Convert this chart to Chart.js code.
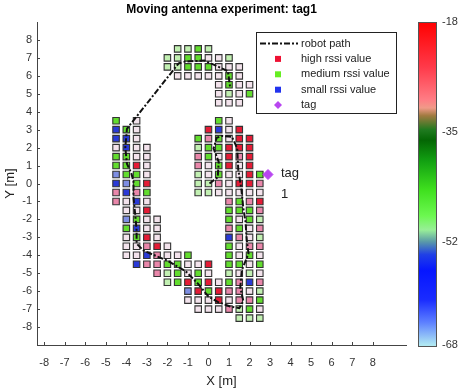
<!DOCTYPE html>
<html>
<head>
<meta charset="utf-8">
<script src="https://cdn.jsdelivr.net/npm/chart.js@4.4.0/dist/chart.umd.min.js"></script>
<style>
html, body { margin: 0; padding: 0; background: #fff; }
#wrap { position: relative; width: 474px; height: 391px; }
</style>
</head>
<body>
<div id="wrap"><canvas id="chart" width="474" height="391"></canvas></div>
<script>
var titleText = "Moving antenna experiment: tag1"
var xTicks = [-8, -7, -6, -5, -4, -3, -2, -1, 0, 1, 2, 3, 4, 5, 6, 7, 8]
var yTicks = [-8, -7, -6, -5, -4, -3, -2, -1, 0, 1, 2, 3, 4, 5, 6, 7, 8]
var cbTicks = [-18, -35, -52, -68]
var cbMin = -68, cbMax = -18

// colour bar (value -> colour)
var cbStopValues = [-18, -25, -30, -31.3, -32.5, -34.7, -36.3, -39.5, -44, -48, -50.2, -52, -54, -56.5, -61, -64.5, -68]
var cbStopColors = ["#ff0000", "#ff3a4a", "#ff7c84", "#f09a88", "#a07a40", "#1f7a1f", "#046604", "#12a012", "#3fe01e", "#6cf850", "#98ee98", "#5a9aa8", "#2040e6", "#0616ff", "#1a2cff", "#5d80ff", "#b0e8f2"]

// robot path
var pathX = [0.05, 0.45, 0.5, 0.25, 0.4, 0.65, 1.15, 1.4, 1.45, 1.6, 1.7, 1.8, 1.87, 1.95, 1.62, 1.55, 1.7, 1.5, 1.05, 0.45, 0.0, -0.5, -1.1, -2.0, -3.15, -3.5, -3.5, -3.57, -3.65, -3.65, -3.75, -3.97, -4.05, -3.97, -1.45, -1.1, -0.2, 0.4, 0.95, 1.05]
var pathY = [0.0, 0.35, 1.2, 1.95, 2.55, 2.65, 2.6, 1.95, 0.8, -0.3, -1.4, -2.1, -3.2, -3.9, -4.85, -5.8, -6.55, -6.95, -6.85, -6.6, -6.3, -5.6, -4.9, -4.3, -3.75, -3.35, -2.6, -1.7, -0.8, 0.1, 0.55, 1.1, 2.0, 3.05, 6.7, 6.8, 6.85, 6.55, 6.25, 5.4]

var tagX = [2.9]
var tagY = [0.5]
var tagText = ["tag", "1"]

// measured cells: [y, first x, levels]  (r high, k pink, w pale, g medium, l light green, b small, c light blue, _ empty)
var arcRows = [
  [7.5, -1.5, "llgl"],
  [7.0, -2.0, "llggwwl"],
  [6.5, -2.0, "llgggwww"],
  [6.0, -1.5, "wwwwwgw"],
  [5.5, 0.5, "wgww"],
  [5.0, 0.5, "wlwg"],
  [4.5, 0.5, "www"]
]
var leftRows = [
  [3.5, -4.5, "g_w"],
  [3.0, -4.5, "bgw"],
  [2.5, -4.5, "bbw"],
  [2.0, -4.5, "wbww"],
  [1.5, -4.5, "ggww"],
  [1.0, -4.5, "ggrw"],
  [0.5, -4.5, "cggw"],
  [0.0, -4.5, "bcgr"],
  [-0.5, -4.5, "kbkg"],
  [-1.0, -4.5, "kwbw"],
  [-1.5, -4.0, "wwr"],
  [-2.0, -4.0, "cgww"],
  [-2.5, -4.0, "gbww"],
  [-3.0, -4.0, "wgrw"],
  [-3.5, -4.0, "wwkrw"],
  [-4.0, -4.0, "wwbkwwg"]
]
var rightRows = [
  [3.5, 0.5, "gw"],
  [3.0, 0.0, "rbwr"],
  [2.5, -0.5, "gkgwrr"],
  [2.0, -0.5, "lggrrr"],
  [1.5, -0.5, "kgwrkr"],
  [1.0, -0.5, "kwgrwr"],
  [0.5, -0.5, "lwgwwrg"],
  [0.0, -0.5, "llkwrrk"],
  [-0.5, -0.5, "llwwwww"],
  [-1.0, 1.0, "kgkr"],
  [-1.5, 1.0, "gggk"],
  [-2.0, 1.0, "gwgl"],
  [-2.5, 1.0, "kgwk"],
  [-3.0, 1.0, "bkwl"],
  [-3.5, 1.0, "gwkk"],
  [-4.0, 1.0, "gwgw"],
  [-4.5, 1.0, "ggwg"]
]
var bottomRows = [
  [-4.5, -3.5, "bkkggwwr"],
  [-5.0, -2.5, "klgwgw_lwlw"],
  [-5.5, -2.0, "lgrgrwgkbk"],
  [-6.0, -1.0, "crgrkkwl"],
  [-6.5, -1.0, "wwwrwkkg"],
  [-7.0, -0.5, "wwwklgw"],
  [-7.5, 1.5, "lll"]
]

var levelColors = { r: "#e41c36", k: "#e987aa", w: "#f3e3ec", g: "#62dc2e", l: "#c2f0b2", b: "#2a3ad6", c: "#7e8ee2" }
var levelGroup = { r: "high", k: "high", w: "high", g: "medium", l: "medium", b: "small", c: "small" }
var legendLabels = ["robot path", "high rssi value", "medium rssi value", "small rssi value", "tag"]
var fontFamily = "'Liberation Sans', Arial, sans-serif"

var groups = { high: { data: [], colors: [] }, medium: { data: [], colors: [] }, small: { data: [], colors: [] } }
arcRows.concat(leftRows, rightRows, bottomRows).forEach(row => {
  var codes = row[2]
  for (var i = 0; i < codes.length; i++) {
    var c = codes[i]
    if (c == "_") continue
    var g = groups[levelGroup[c]]
    g.data.push({ x: row[1] + i * 0.5, y: row[0] })
    g.colors.push(levelColors[c])
  }
})

var squares = (label, key, legendColor) => ({
  label: label,
  data: groups[key].data,
  pointStyle: "rect",
  pointRadius: 4.6,
  pointBorderWidth: 1.1,
  pointBorderColor: "#333",
  pointBackgroundColor: groups[key].colors,
  showLine: false,
  legendStyle: "rect",
  legendColor: legendColor
})

var datasets = [
  {
    label: "robot path",
    data: pathX.map((x, i) => ({ x: x, y: pathY[i] })),
    showLine: true,
    borderColor: "#111",
    borderWidth: 2,
    borderDash: [6, 2, 2, 2],
    pointRadius: 0,
    tension: 0,
    fill: false,
    legendStyle: "line"
  },
  {
    label: "tag",
    data: tagX.map((x, i) => ({ x: x, y: tagY[i] })),
    pointStyle: "rectRot",
    pointRadius: 5,
    pointBackgroundColor: "#b846f0",
    pointBorderColor: "#b846f0",
    showLine: false,
    legendStyle: "rectRot",
    legendColor: "#b846f0"
  },
  squares("high rssi value", "high", "#ee1133"),
  squares("medium rssi value", "medium", "#66ee22"),
  squares("small rssi value", "small", "#2233ee")
]

var extras = {
  id: "extras",
  afterDraw(chart) {
    var ctx = chart.ctx
    var ca = chart.chartArea
    var sx = chart.scales.x, sy = chart.scales.y, cb = chart.scales.cb
    ctx.save()

    // inner tick marks
    ctx.strokeStyle = "#444"
    ctx.lineWidth = 1
    ctx.beginPath()
    xTicks.forEach(v => {
      var p = Math.round(sx.getPixelForValue(v)) + 0.5
      ctx.moveTo(p, ca.bottom); ctx.lineTo(p, ca.bottom - 3)
    })
    yTicks.forEach(v => {
      var p = Math.round(sy.getPixelForValue(v)) + 0.5
      ctx.moveTo(ca.left, p); ctx.lineTo(ca.left + 3, p)
    })
    ctx.stroke()

    // title
    ctx.fillStyle = "#000"
    ctx.font = "bold 12px " + fontFamily
    ctx.textAlign = "center"
    ctx.textBaseline = "middle"
    ctx.fillText(titleText, (ca.left + ca.right) / 2, 10)

    // tag label
    ctx.font = "13px " + fontFamily
    ctx.textAlign = "left"
    ctx.fillStyle = "#222"
    var tx = sx.getPixelForValue(tagX[0]), ty = sy.getPixelForValue(tagY[0])
    ctx.fillText(tagText[0], tx + 13, ty - 1)
    ctx.fillText(tagText[1], tx + 13, ty + 20)

    // colour bar
    var top = cb.getPixelForValue(cbMax), bot = cb.getPixelForValue(cbMin)
    var bx = cb.left + 12, bw = 19
    var grad = ctx.createLinearGradient(0, top, 0, bot)
    cbStopValues.forEach((v, i) => grad.addColorStop((cbMax - v) / (cbMax - cbMin), cbStopColors[i]))
    ctx.fillStyle = grad
    ctx.fillRect(bx, top, bw, bot - top + 1)
    ctx.strokeStyle = "#555"
    ctx.strokeRect(bx + 0.5, top + 0.5, bw - 1, bot - top + 1)

    // legend
    var lx = ca.right - 150, ly = ca.top + 10, lw = 140, lh = 81
    ctx.fillStyle = "#fff"
    ctx.fillRect(lx, ly, lw, lh)
    ctx.strokeStyle = "#222"
    ctx.strokeRect(lx + 0.5, ly + 0.5, lw, lh)
    ctx.font = "11px " + fontFamily
    legendLabels.forEach((label, i) => {
      var ds = chart.data.datasets.find(d => d.label == label)
      var cy = ly + 11.5 + i * 15.4
      var mx = lx + 22
      if (ds.legendStyle == "line") {
        ctx.strokeStyle = ds.borderColor
        ctx.lineWidth = 2
        ctx.setLineDash(ds.borderDash)
        ctx.beginPath(); ctx.moveTo(lx + 4, cy); ctx.lineTo(lx + 42, cy); ctx.stroke()
        ctx.setLineDash([])
        ctx.lineWidth = 1
      } else if (ds.legendStyle == "rect") {
        ctx.fillStyle = ds.legendColor
        ctx.fillRect(mx - 3, cy - 3, 6, 6)
      } else {
        ctx.fillStyle = ds.legendColor
        ctx.beginPath()
        ctx.moveTo(mx, cy - 4); ctx.lineTo(mx + 4, cy); ctx.lineTo(mx, cy + 4); ctx.lineTo(mx - 4, cy)
        ctx.closePath(); ctx.fill()
      }
      ctx.fillStyle = "#222"
      ctx.textAlign = "left"
      ctx.fillText(label, lx + 45, cy)
    })
    ctx.restore()
  }
}

var tickFont = { family: fontFamily, size: 11 }
var titleFont = { family: fontFamily, size: 13 }

// fixed axis sizes, and no label overflow padding pushing the plot area around
var fixSize = (w, h) => s => {
  if (w) s.width = w
  if (h) s.height = h
  s.paddingTop = 0; s.paddingBottom = 0; s.paddingLeft = 0; s.paddingRight = 0
}

new Chart(document.getElementById("chart"), {
  type: "scatter",
  data: { datasets: datasets },
  plugins: [extras],
  options: {
    responsive: false,
    animation: false,
    events: [],
    layout: { padding: { top: 22, left: 0, right: 0, bottom: 0 } },
    plugins: { legend: { display: false }, tooltip: { enabled: false }, title: { display: false } },
    scales: {
      x: {
        type: "linear", min: -8.35, max: 9.62,
        afterBuildTicks: s => { s.ticks = xTicks.map(v => ({ value: v })) },
        afterFit: fixSize(0, 46),
        grid: { display: false, drawTicks: false },
        border: { display: true, color: "#444", width: 1 },
        ticks: { padding: 11, font: tickFont, color: "#333", maxRotation: 0 },
        title: { display: true, text: "X [m]", font: titleFont, color: "#222", padding: { top: 0, bottom: 2 } }
      },
      y: {
        type: "linear", min: -9, max: 9,
        afterBuildTicks: s => { s.ticks = yTicks.map(v => ({ value: v })) },
        afterFit: fixSize(37, 0),
        grid: { display: false, drawTicks: false },
        border: { display: true, color: "#444", width: 1 },
        ticks: { padding: 5, font: tickFont, color: "#333" },
        title: { display: true, text: "Y [m]", font: titleFont, color: "#222", padding: { top: 3, bottom: 0 } }
      },
      cb: {
        type: "linear", position: "right", min: cbMin, max: cbMax,
        afterBuildTicks: s => { s.ticks = cbTicks.map(v => ({ value: v })) },
        afterFit: fixSize(68, 0),
        grid: { display: false, drawTicks: false },
        border: { display: false },
        ticks: { padding: 36, font: tickFont, color: "#333" }
      }
    }
  }
})
</script>
</body>
</html>
